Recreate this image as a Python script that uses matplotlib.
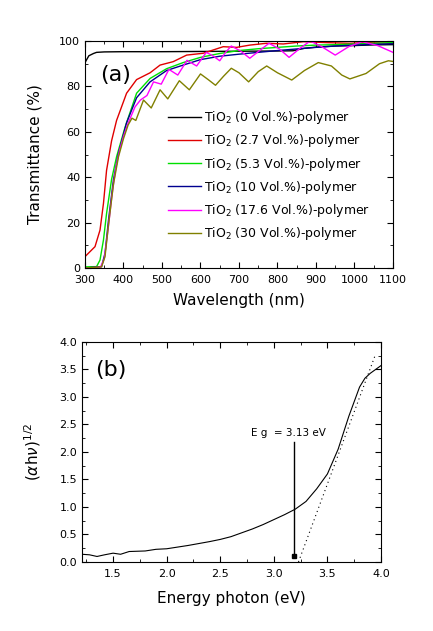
import numpy as np
import matplotlib
matplotlib.use('Agg')
import matplotlib.pyplot as plt
from matplotlib.ticker import MultipleLocator

plt.rcParams['font.family'] = ['DejaVu Sans']

# panel (a) - transmittance spectra
wl_0 = [300, 305, 310, 322, 330, 350, 400, 500, 600, 700, 800, 840, 870, 900, 950, 1000, 1050, 1100]
tr_0 = [90.5, 92, 93.5, 94.5, 95, 95.2, 95.3, 95.3, 95.4, 95.5, 95.6, 95.7, 96.8, 97.3, 97.8, 98, 98.3, 98.4]

wl_27 = [300, 326, 339, 348, 356, 369, 382, 408, 434, 469, 495, 529, 564, 607, 659, 694, 728, 771, 815, 867, 927, 988, 1031, 1100]
tr_27 = [5, 9.4, 16.7, 28.5, 43, 56, 65, 77, 83, 86, 89.4, 90.9, 93.8, 94.6, 97.5, 97.2, 98.2, 99, 98.7, 99.7, 99.3, 99, 99.3, 99]

wl_53 = [300, 330, 339, 348, 356, 369, 382, 404, 434, 469, 512, 555, 600, 650, 700, 750, 800, 850, 900, 950, 1000, 1050, 1100]
tr_53 = [0.5, 0.6, 3.5, 12.4, 24, 39, 49, 62, 77, 83.5, 87.8, 90.5, 92.8, 94.5, 95.8, 96.6, 97.2, 97.8, 98.2, 98.4, 98.7, 99, 99.3]

wl_10 = [300, 343, 352, 361, 374, 387, 408, 434, 469, 512, 555, 600, 650, 700, 750, 800, 850, 900, 950, 1000, 1050, 1100]
tr_10 = [0, 0.6, 6.5, 21, 39, 50.5, 64, 75, 82, 87, 89.4, 91.8, 93.3, 94.2, 95, 95.8, 96.5, 97.2, 97.8, 98.2, 98.5, 98.8]

wl_176 = [300, 340, 350, 360, 370, 380, 390, 400, 410, 420, 430, 444, 461, 478, 498, 518, 541, 565, 590,
          615, 632, 650, 665, 680, 705, 728, 755, 778, 805, 830, 860, 885, 915, 950, 985, 1020, 1060, 1100]
tr_176 = [0, 0.3, 4, 17, 32, 44, 52, 58, 63, 67, 71, 74, 76, 82, 81, 87.5, 85, 91.5, 89,
          95, 93.5, 91.3, 95, 97.8, 95.5, 92.4, 96, 99, 96.5, 92.8, 97, 100, 97.5, 93.8, 97.5, 99.7, 98, 95]

wl_30 = [300, 343, 352, 361, 374, 387, 400, 412, 422, 432, 452, 472, 495, 515, 545, 571, 600,
         620, 639, 660, 680, 700, 725, 750, 772, 800, 837, 870, 906, 940, 967, 988, 1030, 1065, 1088, 1100]
tr_30 = [0, 0.5, 5, 19, 37, 49, 57, 63, 66, 65, 74, 70.5, 78.5, 74.5, 82.5, 78.5, 85.5,
         83, 80.5, 84.5, 88, 86, 82, 86.5, 89, 86, 82.8, 87, 90.5, 89, 85, 83.3, 85.7, 90, 91.3, 91]

series_labels = ['TiO$_2$ (0 Vol.%)-polymer', 'TiO$_2$ (2.7 Vol.%)-polymer',
                 'TiO$_2$ (5.3 Vol.%)-polymer', 'TiO$_2$ (10 Vol.%)-polymer',
                 'TiO$_2$ (17.6 Vol.%)-polymer', 'TiO$_2$ (30 Vol.%)-polymer']
series_colors = ['black', '#e00000', '#00e000', '#000090', '#ff00ff', '#808000']

# panel (b) - Tauc plot
energy = [1.21, 1.28, 1.35, 1.42, 1.5, 1.57, 1.65, 1.8, 1.9, 2.0, 2.2, 2.4, 2.5, 2.6, 2.7, 2.8, 2.9,
          3.0, 3.1, 3.2, 3.3, 3.4, 3.5, 3.6, 3.7, 3.8, 3.85, 3.9, 4.0]
tauc = [0.14, 0.13, 0.1, 0.13, 0.16, 0.14, 0.19, 0.2, 0.23, 0.24, 0.3, 0.37, 0.41, 0.46, 0.53, 0.6, 0.68,
        0.77, 0.86, 0.96, 1.1, 1.33, 1.6, 2.05, 2.65, 3.18, 3.34, 3.43, 3.57]
fit_x = [3.23, 3.95]
fit_y = [0.0, 3.78]
eg_x = 3.19

fig = plt.figure(figsize=(4.33, 6.31), dpi=100)

ax1 = fig.add_axes([0.1963, 0.5753, 0.7113, 0.3597])
data = [(wl_0, tr_0), (wl_27, tr_27), (wl_53, tr_53), (wl_10, tr_10), (wl_176, tr_176), (wl_30, tr_30)]
for (x, y), c, lab in zip(data, series_colors, series_labels):
    ax1.plot(x, y, color=c, lw=1.0, label=lab)
ax1.set_xlim(300, 1100)
ax1.set_ylim(0, 100)
ax1.xaxis.set_major_locator(MultipleLocator(100))
ax1.xaxis.set_minor_locator(MultipleLocator(50))
ax1.yaxis.set_major_locator(MultipleLocator(20))
ax1.yaxis.set_minor_locator(MultipleLocator(10))
ax1.tick_params(which='both', direction='in', top=True, right=True, labelsize=8)
ax1.tick_params(which='major', length=4)
ax1.tick_params(which='minor', length=2)
ax1.tick_params(axis='x', pad=5)
ax1.set_xlabel('Wavelength (nm)', fontsize=11, labelpad=6)
ax1.set_ylabel('Transmittance (%)', fontsize=11, labelpad=12)
ax1.text(0.05, 0.85, '(a)', transform=ax1.transAxes, fontsize=16, va='center')
ax1.legend(loc='upper left', frameon=False, fontsize=9, handlelength=2.6, handletextpad=0.3,
           labelspacing=0.5, bbox_to_anchor=(0.27, 0.70), borderaxespad=0, borderpad=0)

ax2 = fig.add_axes([0.1894, 0.1094, 0.6905, 0.3487])
ax2.plot(energy, tauc, color='black', lw=0.8)
ax2.plot(fit_x, fit_y, color='black', lw=0.8, ls=(0, (1, 3)))
ax2.plot([eg_x, eg_x], [0.1, 2.19], color='black', lw=1.0)
ax2.plot([eg_x], [0.1], marker='s', color='black', ms=3)
ax2.text(3.14, 2.35, 'E g  = 3.13 eV', fontsize=7.5, ha='center', va='center')
ax2.set_xlim(1.21, 4.0)
ax2.set_ylim(0, 4.0)
ax2.xaxis.set_major_locator(MultipleLocator(0.5))
ax2.xaxis.set_minor_locator(MultipleLocator(0.25))
ax2.yaxis.set_major_locator(MultipleLocator(0.5))
ax2.yaxis.set_minor_locator(MultipleLocator(0.25))
ax2.tick_params(which='both', direction='in', top=True, right=True, labelsize=8)
ax2.tick_params(which='major', length=4)
ax2.tick_params(which='minor', length=2)
ax2.tick_params(axis='x', pad=5)
ax2.set_xlabel('Energy photon (eV)', fontsize=11, labelpad=9)
ax2.set_ylabel('($\\alpha$h$\\nu$)$^{1/2}$', fontsize=11, labelpad=12)
ax2.text(0.045, 0.873, '(b)', transform=ax2.transAxes, fontsize=16, va='center')

fig.savefig('out.png', dpi=100)
